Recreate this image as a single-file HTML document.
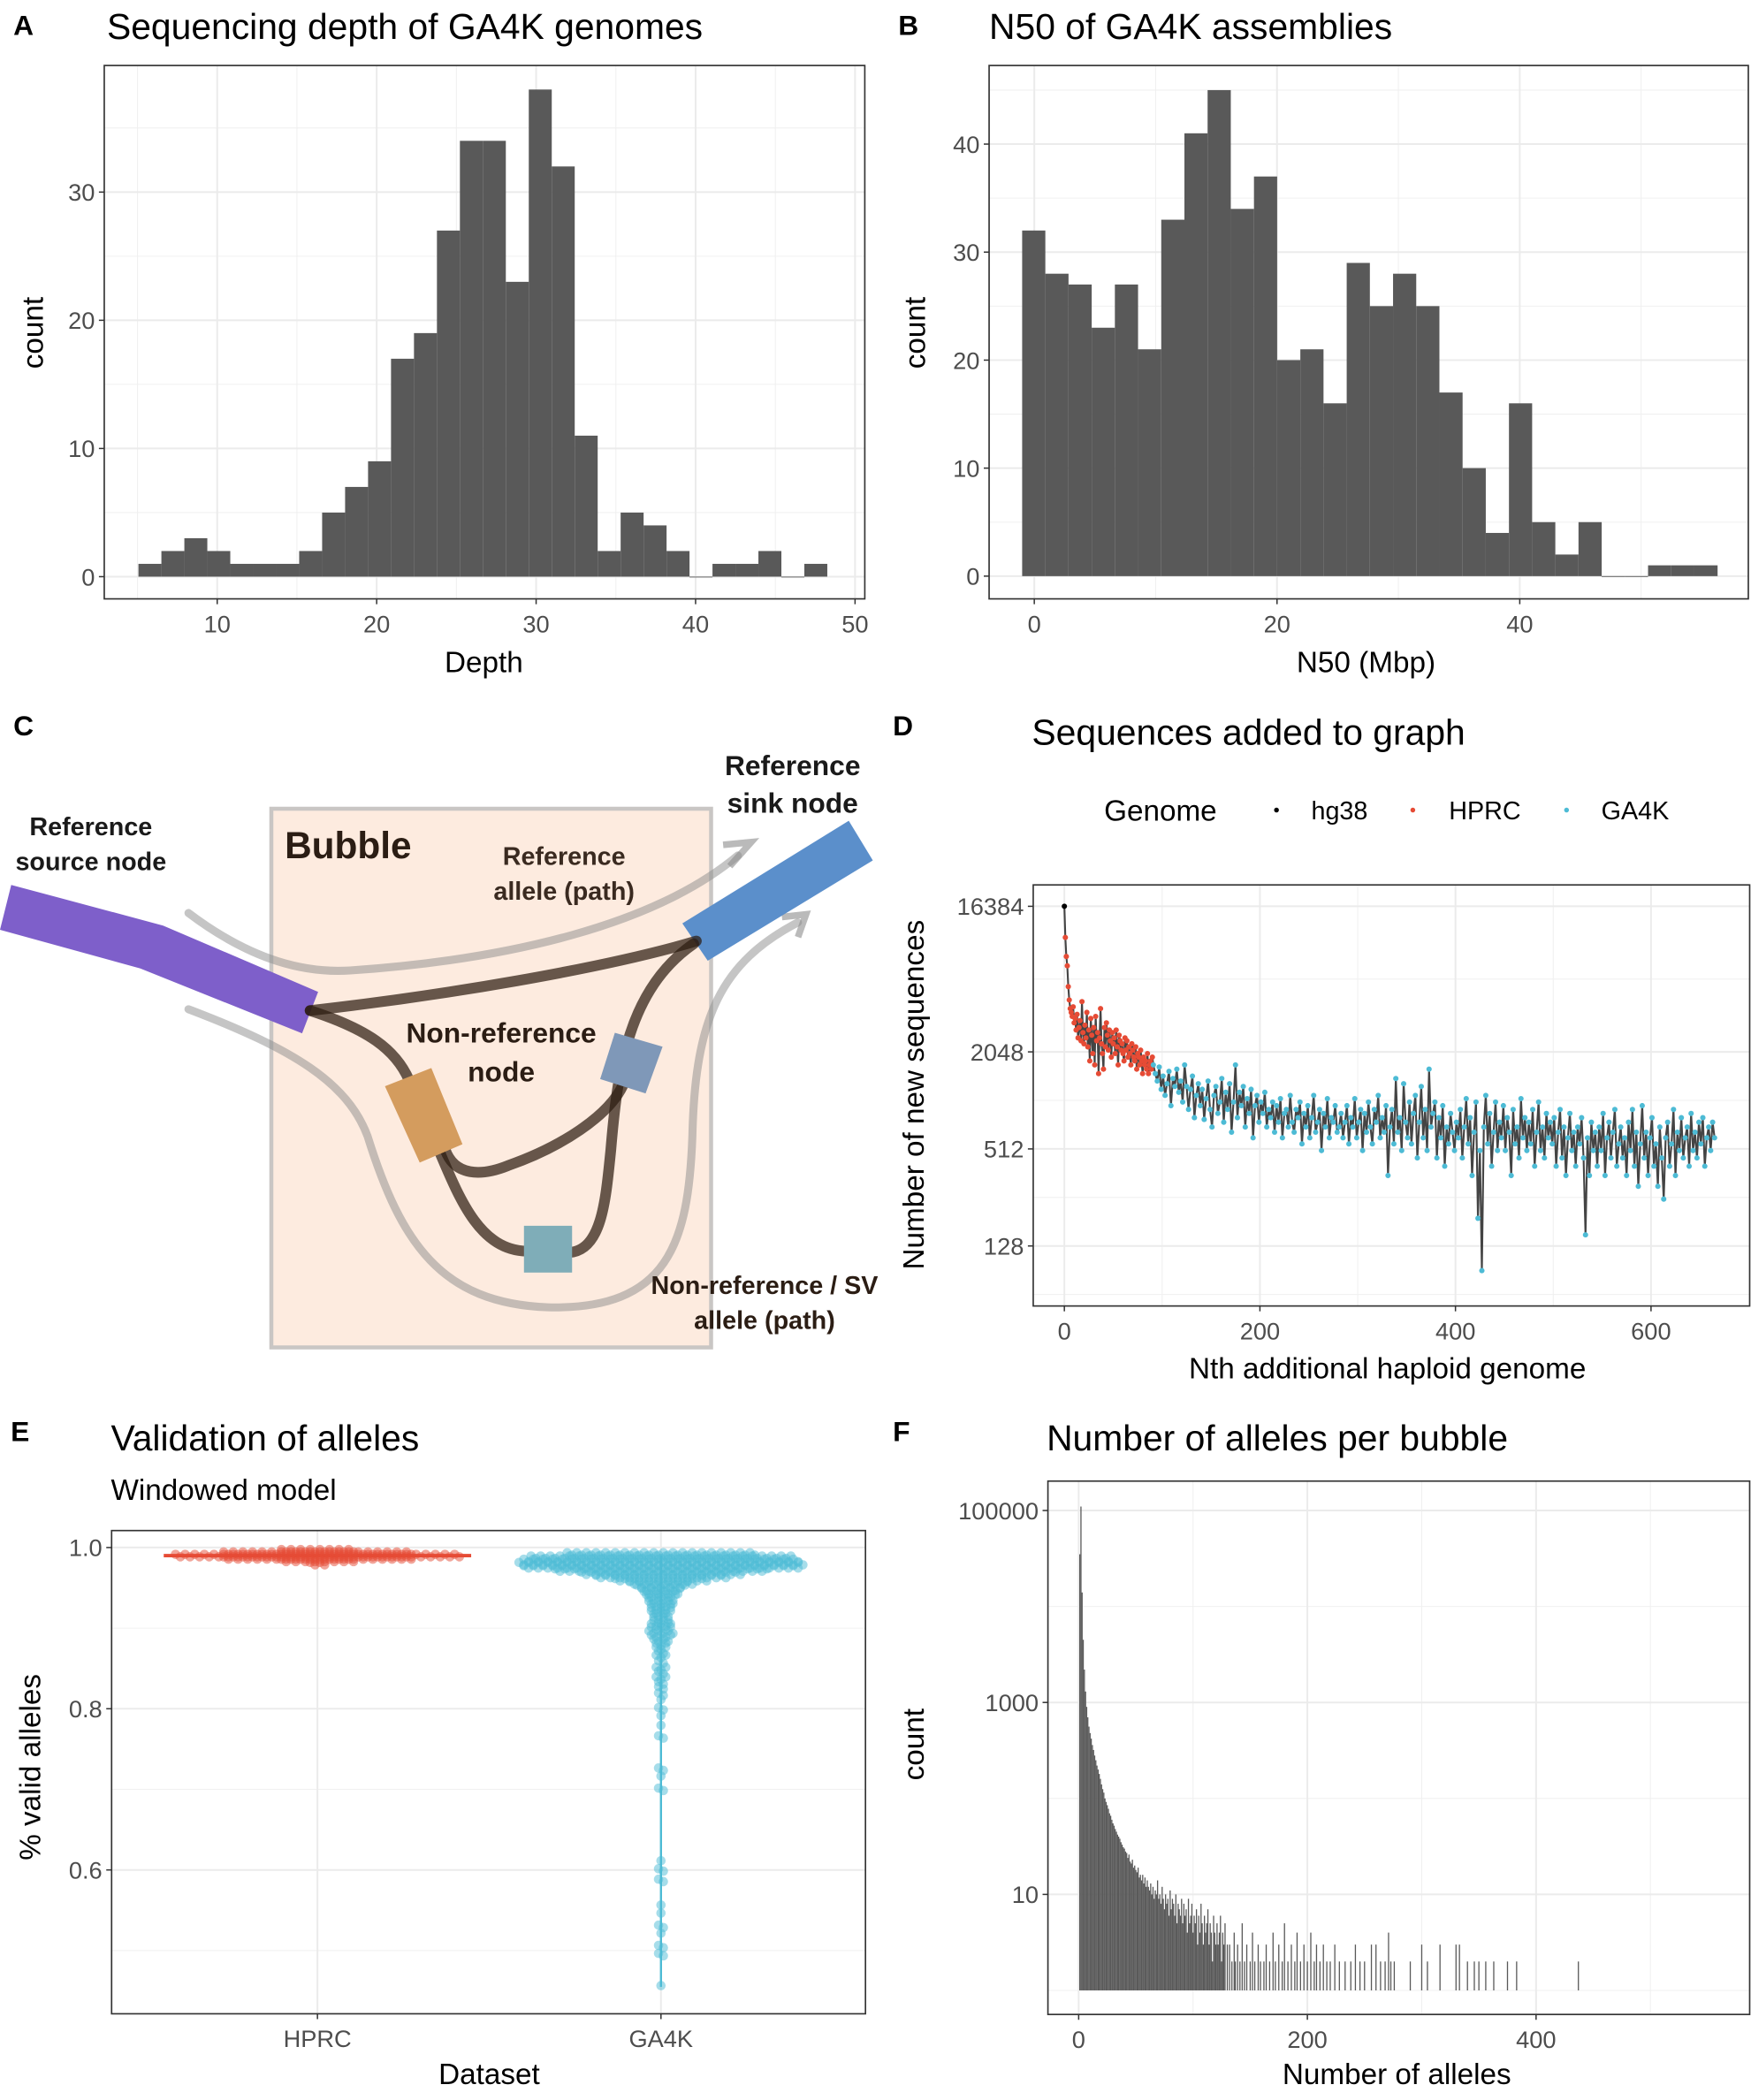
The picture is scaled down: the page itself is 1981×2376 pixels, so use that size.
<!DOCTYPE html>
<html><head><meta charset="utf-8"><title>GA4K figure</title>
<style>
html,body{margin:0;padding:0;background:#fff;}
svg{display:block;}
text{font-family:"Liberation Sans",Arial,sans-serif;}
.tick{fill:#4d4d4d;font-size:18px;}
.atitle{fill:#000;font-size:22px;}
.ptitle{fill:#000;font-size:27px;}
.plabel{fill:#000;font-size:21px;font-weight:bold;}
.dg{font-size:19px;fill:#1a1a1a;}
</style></head>
<body>
<svg id="fig" xmlns="http://www.w3.org/2000/svg" width="1981" height="2376" viewBox="0 0 1310 1571" preserveAspectRatio="none">
<rect x="0" y="0" width="1310" height="1571" fill="#fff"/>

<!-- Panel A -->
<g>
<text class="plabel" x="10" y="26">A</text>
<text class="ptitle" x="80" y="29">Sequencing depth of GA4K genomes</text>
<g id="gA"></g>
<text class="atitle" x="362" y="503" text-anchor="middle">Depth</text>
<text class="atitle" transform="translate(32,249) rotate(-90)" text-anchor="middle">count</text>
</g>

<!-- Panel B -->
<g>
<text class="plabel" x="672" y="26">B</text>
<text class="ptitle" x="740" y="29">N50 of GA4K assemblies</text>
<g id="gB"></g>
<text class="atitle" x="1022" y="503" text-anchor="middle">N50 (Mbp)</text>
<text class="atitle" transform="translate(692,249) rotate(-90)" text-anchor="middle">count</text>
</g>

<!-- Panel C diagram -->
<g>
<text class="plabel" x="10" y="550">C</text>
<rect x="203" y="605" width="329" height="403" fill="#fdebdf" stroke="#c9c6c4" stroke-width="3"/>
<path d="M141,683 C190,720 230,728 262,726 C380,718 490,692 552,640" fill="none" stroke="rgba(140,140,140,0.5)" stroke-width="6" stroke-linecap="round"/>
<path d="M546,648 L562,630 L541,632" fill="none" stroke="rgba(140,140,140,0.6)" stroke-width="5"/>
<path d="M141,755 C220,785 260,810 275,850 C300,930 330,975 410,978 C500,980 515,930 518,850 C520,760 540,720 597,690" fill="none" stroke="rgba(140,140,140,0.5)" stroke-width="6" stroke-linecap="round"/>
<path d="M585,686 L603,684 L597,701" fill="none" stroke="rgba(140,140,140,0.6)" stroke-width="5"/>
<polygon points="0,695.6 8.4,662 122,692.4 238,742 226,773 105,724.5" fill="#7e5fca"/>
<polygon points="510.5,690.8 635,614 653,643.7 529.5,718.7" fill="#5b8fcb"/>
<g fill="none" stroke="rgba(45,28,16,0.72)" stroke-width="8" stroke-linecap="round">
<path d="M232,756 C330,745 450,725 521,704"/>
<path d="M232,756 C275,770 296,785 306,808"/>
<path d="M333,860 C340,880 360,880 380,872 C420,858 455,835 466,812"/>
<path d="M329,862 C345,900 360,935 394,936"/>
<path d="M426,937 C450,935 453,900 457,860 C462,800 470,740 519,706"/>
</g>
<polygon points="288,812.6 322.7,799 346,856 314,869.7" fill="#d49c5e"/>
<polygon points="460,772.6 495.7,783 483,818 449,807.2" fill="#7f98b8"/>
<rect x="392" y="917" width="36" height="35" fill="#7fadb8"/>
<text x="213" y="642" style="font-size:28px;font-weight:bold;fill:#2b1d14">Bubble</text>
<text class="dg" x="422" y="647" text-anchor="middle" style="font-weight:bold;fill:#3a2a20">Reference</text>
<text class="dg" x="422" y="673" text-anchor="middle" style="font-weight:bold;fill:#3a2a20">allele (path)</text>
<text class="dg" x="68" y="625" text-anchor="middle" style="font-weight:bold">Reference</text>
<text class="dg" x="68" y="651" text-anchor="middle" style="font-weight:bold">source node</text>
<text class="dg" x="593" y="580" text-anchor="middle" style="font-weight:bold;font-size:21px">Reference</text>
<text class="dg" x="593" y="608" text-anchor="middle" style="font-weight:bold;font-size:21px">sink node</text>
<text class="dg" x="375" y="780" text-anchor="middle" style="font-weight:bold;font-size:21px;fill:#2b1d14">Non-reference</text>
<text class="dg" x="375" y="809" text-anchor="middle" style="font-weight:bold;font-size:21px;fill:#2b1d14">node</text>
<text class="dg" x="572" y="968" text-anchor="middle" style="font-weight:bold;fill:#2b1d14">Non-reference / SV</text>
<text class="dg" x="572" y="994" text-anchor="middle" style="font-weight:bold;fill:#2b1d14">allele (path)</text>
</g>

<!-- Panel D -->
<g>
<text class="plabel" x="668" y="550">D</text>
<text class="ptitle" x="772" y="557">Sequences added to graph</text>
<text class="atitle" x="826" y="614">Genome</text>
<circle cx="955" cy="606" r="1.8" fill="#000"/>
<text x="981" y="613" style="font-size:19px">hg38</text>
<circle cx="1057" cy="606" r="1.8" fill="#e64b35"/>
<text x="1084" y="613" style="font-size:19px">HPRC</text>
<circle cx="1172" cy="606" r="1.8" fill="#4dbbd5"/>
<text x="1198" y="613" style="font-size:19px">GA4K</text>
<g id="gD"></g>
<text class="atitle" x="1038" y="1031" text-anchor="middle">Nth additional haploid genome</text>
<text class="atitle" transform="translate(691,819) rotate(-90)" text-anchor="middle">Number of new sequences</text>
</g>

<!-- Panel E -->
<g>
<text class="plabel" x="8" y="1078">E</text>
<text class="ptitle" x="83" y="1085">Validation of alleles</text>
<text x="83" y="1122" style="font-size:22px">Windowed model</text>
<g id="gE"></g>
<text class="atitle" x="366" y="1559" text-anchor="middle">Dataset</text>
<text class="atitle" transform="translate(30,1322) rotate(-90)" text-anchor="middle">% valid alleles</text>
</g>

<!-- Panel F -->
<g>
<text class="plabel" x="668" y="1078">F</text>
<text class="ptitle" x="783" y="1085">Number of alleles per bubble</text>
<g id="gF"></g>
<text class="atitle" x="1045" y="1559" text-anchor="middle">Number of alleles</text>
<text class="atitle" transform="translate(691,1305) rotate(-90)" text-anchor="middle">count</text>
</g>
</svg>

<script>
// ---------- Panel A data ----------
const depthBinStart = 5.06;
const depthBinWidth = 1.44;
const depthCounts = [1,2,3,2,1,1,1,2,5,7,9,17,19,27,34,34,23,38,32,11,2,5,4,2,0,1,1,2,0,1];
const depthXTicks = [10,20,30,40,50];
const depthYTicks = [0,10,20,30];

// ---------- Panel B data ----------
const n50BinStart = -1.0;
const n50BinWidth = 1.91;
const n50Counts = [32,28,27,23,27,21,33,41,45,34,37,20,21,16,29,25,28,25,17,10,4,16,5,2,5,0,0,1,1,1];
const n50XTicks = [0,20,40];
const n50YTicks = [0,10,20,30,40];

// ---------- Panel D data ----------
const hg38Value = [16384];
const hprcValues = [10500,8000,7000,5200,4300,3800,3600,3400,3900,3100,
3300,2800,3500,2500,2900,3200,2400,4200,2700,2300,
3000,2500,3600,2200,2800,1800,3300,2600,2000,2900,
1700,3400,2400,2700,1500,2500,3800,2300,2000,1600,
2900,2200,3100,2600,2100,2800,2400,1900,2700,2300,
2500,2000,2800,2200,1700,2600,2400,2100,2300,2000,
1800,2500,2100,2400,1900,2200,2000,1700,2300,2100,
1900,1800,2200,1600,2000,1900,1700,2100,1800,1500,
1900,1700,1800,1600,2000,1500,1700,1800,1600,1900];
const ga4kStart = 91;
const ga4kStep = 2;
const ga4kValues = [1700,1500,1350,1650,1200,1450,1100,1300,1550,950,1400,1250,
1600,1150,1350,1000,1700,1250,900,1200,1450,800,1100,1300,
950,1200,780,1050,1350,900,700,1100,1250,850,1000,1400,
750,1150,900,1300,650,1000,1700,800,1150,950,1250,700,
1050,850,1200,600,950,1100,750,1000,850,1150,700,900,
800,1000,650,950,750,1050,600,850,900,700,1100,750,
650,900,800,1000,550,850,700,950,600,800,1100,650,
750,900,500,850,700,1050,600,800,750,950,650,700,
850,600,750,950,550,800,700,1050,600,750,900,500,
850,650,1000,700,550,900,750,1100,600,800,650,950,
350,700,900,550,1400,650,800,500,1300,750,600,1000,
550,850,1100,450,750,1250,600,900,500,1600,700,850,
1000,450,800,600,950,400,700,550,850,650,500,750,
600,900,450,700,1050,550,800,350,650,1000,190,500,
90,700,1100,550,850,400,650,1000,500,750,600,950,
500,800,650,350,900,550,700,450,1050,600,800,500,
750,550,900,400,650,1000,500,700,450,850,600,750,
550,800,400,650,900,450,700,350,600,850,500,650,
400,700,550,800,450,150,600,350,750,500,650,400,
700,500,850,350,600,750,450,650,900,400,550,700,
450,600,350,750,500,900,400,650,300,550,950,450,
650,350,600,800,400,550,300,700,450,250,600,750,
400,550,900,350,650,500,800,450,600,700,400,850,
500,650,450,750,550,800,400,600,700,500,750,600];
const seqXTicks = [0,200,400,600];
const seqYTicks = [128,512,2048,16384];

// ---------- Panel E data ----------
const hprcRowValues = [0.996,0.993,0.990,0.987,0.984,0.980];
const hprcRowCounts = [16,40,60,40,16,4];
const ga4kRowValues = [0.992,0.988,0.984,0.980,0.976,0.972,0.968,0.964,0.960,0.956,0.952,0.948,0.944,0.940,0.936,0.932,0.928,0.924,0.920,0.916,0.912,0.908,0.904,0.900,0.895,0.890,0.885,0.880,0.875,0.870,0.865,0.858,0.850,0.845,0.838,0.832,0.826,0.818,0.810,0.800,0.790,0.778,0.765,0.725,0.715,0.700,0.610,0.600,0.587,0.555,0.545,0.530,0.520,0.505,0.495,0.455];
const ga4kRowCounts = [40,55,58,60,58,45,34,28,20,14,11,9,8,7,6,6,5,5,5,4,4,4,5,5,6,5,4,3,3,2,3,2,3,2,3,2,2,2,1,2,1,1,2,2,1,2,1,2,2,1,1,2,1,2,2,1];
const validCategories = ["HPRC","GA4K"];
const validYTicks = [0.6,0.8,1.0];

// ---------- Panel F data ----------
const alleleCountsHead = [35000,110000,14000,4500,2200,1300,900,700,560,480,
420,360,320,280,250,220,200,180,160,140,
125,115,100,92,85,78,70,66,60,55,
52,48,45,42,40,38,35,33,31,30,
28,27,24,26,22,21,23,19,20,18,
17,19,15,16,14,16,13,15,12,14,
12,11,13,10,12,9,11,10,14,9,
10,8,12,9,7,10,8,9,6,11,
7,9,8,6,10,5,8,7,6,9,
5,8,6,7,4,9,5,6,8,4,
6,5,7,3,6,4,8,5,3,6,
4,5,7,3,5,4,2,6,4,3,
5,3,4,6,2,4,3,5,1,3];
const alleleTailX = [132,134,136,137,139,141,143,145,147,150,152,154,157,159,162,164,167,170,172,175,178,180,183,186,189,191,194,197,200,203,206,208,211,214,217,220,224,228,233,238,242,246,250,256,260,264,268,271,273,276,290,300,305,316,330,333,340,346,350,356,363,375,383,437];
const alleleTailCounts = [3,2,4,2,3,2,5,2,3,2,4,2,3,2,2,3,2,4,2,3,2,5,2,3,2,4,2,3,2,4,2,3,2,3,2,2,3,2,2,2,3,2,2,3,3,2,2,4,2,2,2,3,2,3,3,3,2,2,2,2,2,2,2,2];
const alleleXTicks = [0,200,400];
const alleleYTicks = [10,1000,100000];

// ---------- helpers ----------
const NS = "http://www.w3.org/2000/svg";
function mk(tag, attrs, parent){
  const e = document.createElementNS(NS, tag);
  for (const k in attrs) e.setAttribute(k, attrs[k]);
  parent.appendChild(e);
  return e;
}
function frame(g, box, xMaj, xMin, yMaj, yMin, xs, ys, xLab, yLab, name){
  let e;
  e = mk('rect',{x:box.x0,y:box.y0,width:box.x1-box.x0,height:box.y1-box.y0,fill:'#fff'},g);
  
  
  xMin.forEach(v=>{ const X=xs(v);
    e = mk('line',{x1:X,x2:X,y1:box.y0,y2:box.y1,stroke:'#f0f0f0','stroke-width':0.7},g);
    
     });
  yMin.forEach(v=>{ const Y=ys(v);
    e = mk('line',{x1:box.x0,x2:box.x1,y1:Y,y2:Y,stroke:'#f0f0f0','stroke-width':0.7},g);
    
     });
  xMaj.forEach((v,i)=>{ const X=xs(v);
    e = mk('line',{x1:X,x2:X,y1:box.y0,y2:box.y1,stroke:'#ebebeb','stroke-width':1.3},g);
    
    
    e = mk('line',{x1:X,x2:X,y1:box.y1,y2:box.y1+4},g);
    e.setAttribute('stroke','#333');
    
    
    e = mk('text',{x:X,y:box.y1+25,'text-anchor':'middle','class':'tick'},g);
    e.textContent = xLab ? xLab[i] : String(v);
    
     });
  yMaj.forEach((v,i)=>{ const Y=ys(v);
    e = mk('line',{x1:box.x0,x2:box.x1,y1:Y,y2:Y,stroke:'#ebebeb','stroke-width':1.3},g);
    
    
    e = mk('line',{x1:box.x0-4,x2:box.x0,y1:Y,y2:Y,stroke:'#333'},g);
    
    
    e = mk('text',{x:box.x0-7,y:Y+6.5,'text-anchor':'end','class':'tick'},g);
    e.textContent = yLab ? yLab[i] : String(v);
    
     });
}
function border(g, box, name){
  const e = mk('rect',{x:box.x0,y:box.y0,width:box.x1-box.x0,height:box.y1-box.y0,fill:'none',stroke:'#333','stroke-width':1.1},g);
  
  
}

// ---------- Panel A ----------
(function(){
  const g = document.getElementById('gA');
  const box = {x0:78,x1:647,y0:49,y1:448};
  const xs = v => 162.5 + (v-10)*11.93;
  const ys = c => 431.4 - c*9.59;
  frame(g, box, depthXTicks, [5,15,25,35,45], depthYTicks, [5,15,25,35], xs, ys, null, null, 'depth');
  depthCounts.forEach((c,i)=>{
    const a = depthBinStart + i*depthBinWidth;
    const r = mk('rect',{x:xs(a),y:ys(c),width:xs(a+depthBinWidth)-xs(a),height:Math.max(ys(0)-ys(c),0.6),fill:'#595959'},g);
    
    
  });
  border(g, box, 'depth');
})();

// ---------- Panel B ----------
(function(){
  const g = document.getElementById('gB');
  const box = {x0:740,x1:1308,y0:49,y1:448};
  const xs = v => 773.8 + v*9.08;
  const ys = c => 431 - c*8.08;
  frame(g, box, n50XTicks, [10,30,50], n50YTicks, [5,15,25,35,45], xs, ys, null, null, 'n50');
  n50Counts.forEach((c,i)=>{
    const a = n50BinStart + i*n50BinWidth;
    const r = mk('rect',{x:xs(a),y:ys(c),width:xs(a+n50BinWidth)-xs(a),height:Math.max(ys(0)-ys(c),0.6),fill:'#595959'},g);
    
    
  });
  border(g, box, 'n50');
})();

// ---------- Panel D ----------
(function(){
  const g = document.getElementById('gD');
  const box = {x0:773,x1:1309,y0:662,y1:977};
  const xs = v => 796.3 + v*0.7315;
  const ys = v => 678 + (14 - Math.log2(v))*36.3;
  frame(g, box, seqXTicks, [100,300,500], seqYTicks, [Math.pow(2,6),Math.pow(2,8),Math.pow(2,10),Math.pow(2,12.5)], xs, ys, null, null, 'sequences');
  const pts = [];
  pts.push({x:0,v:hg38Value[0],c:'#000'});
  hprcValues.forEach((v,i)=>pts.push({x:i+1,v:v,c:'#e64b35'}));
  ga4kValues.forEach((v,i)=>pts.push({x:ga4kStart+i*ga4kStep,v:v,c:'#4dbbd5'}));
  const d = pts.map((p,i)=>(i?'L':'M')+xs(p.x).toFixed(2)+','+ys(p.v).toFixed(2)).join(' ');
  const ln = mk('path',{d:d,fill:'none',stroke:'#444','stroke-width':1.4,'stroke-linejoin':'round'},g);
  
  
  pts.forEach(p=>{
    const c = mk('circle',{cx:xs(p.x),cy:ys(p.v),r:2,fill:p.c},g);
    
    
  });
  border(g, box, 'sequences');
})();

// ---------- Panel E ----------
(function(){
  const g = document.getElementById('gE');
  const box = {x0:83.5,x1:647.5,y0:1145,y1:1506.5};
  const centers = [237.5, 494.5];
  const xs = i => centers[i];
  const ys = v => 1157.7 + (1-v)*603;
  frame(g, box, [0,1], [], validYTicks, [0.5,0.7,0.9], xs, ys, validCategories, ['0.6','0.8','1.0'], 'validation');
  let e;
  e = mk('path',{d:'M'+(xs(0)-115)+','+ys(0.99)+' L'+(xs(0)+115)+','+ys(0.99),stroke:'#e64b35','stroke-width':2.6,fill:'none'},g);
  
  
  e = mk('path',{d:'M'+xs(1)+','+ys(0.455)+' L'+xs(1)+','+ys(0.99),stroke:'#4dbbd5','stroke-width':1.6,fill:'none'},g);
  
  
  function swarm(vals, counts, ci, col, name){
    const sp = 3.6;
    vals.forEach((v,k)=>{
      const n = counts[k];
      for (let j=0;j<n;j++){
        const off = (j - (n-1)/2)*sp;
        const c = mk('circle',{cx:xs(ci)+off,cy:ys(v)+((j%2)?0.9:-0.9),r:3.5,fill:col,'fill-opacity':0.5},g);
        
        
      }
    });
  }
  swarm(hprcRowValues, hprcRowCounts, 0, '#e64b35', 'hprc-point');
  swarm(ga4kRowValues, ga4kRowCounts, 1, '#4dbbd5', 'ga4k-point');
  border(g, box, 'validation');
})();

// ---------- Panel F ----------
(function(){
  const g = document.getElementById('gF');
  const box = {x0:784,x1:1309,y0:1108,y1:1507};
  const xs = v => 807 + v*0.8555;
  const ys = c => 1489 - Math.log10(c)*71.8;
  frame(g, box, alleleXTicks, [100,300,500], alleleYTicks, [1,100,10000], xs, ys, null, null, 'alleles');
  function bar(x,c){
    if (c <= 1) return;
    const r = mk('rect',{x:xs(x-0.5),y:ys(c),width:0.86,height:ys(1)-ys(c),fill:'#595959'},g);
    
    
  }
  alleleCountsHead.forEach((c,i)=>bar(i+1,c));
  alleleTailX.forEach((x,i)=>bar(x,alleleTailCounts[i]));
  border(g, box, 'alleles');
})();
</script>
</body></html>
